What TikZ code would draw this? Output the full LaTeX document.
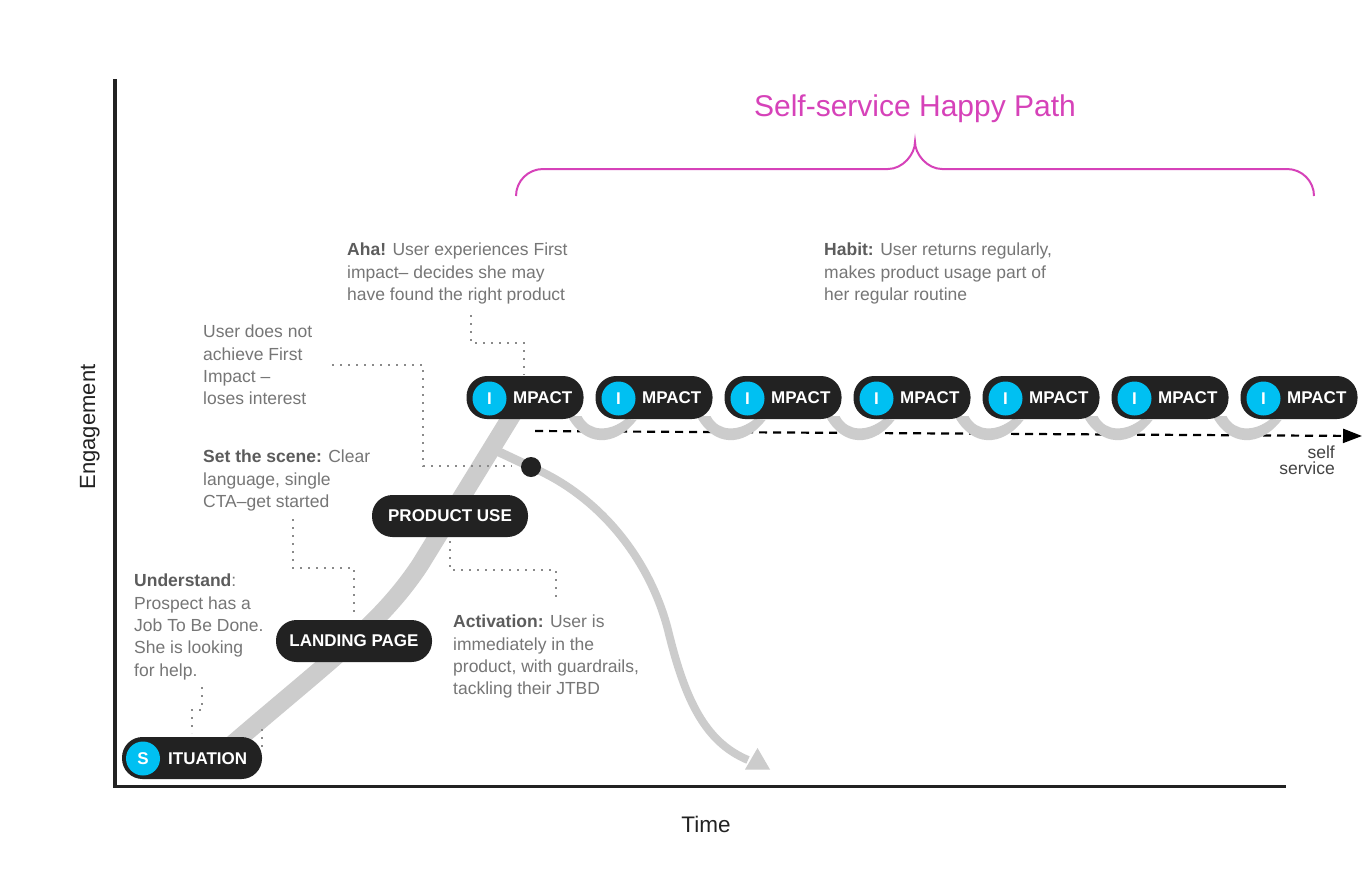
\documentclass[tikz,border=0pt]{standalone}
\usepackage{fontspec}
\setmainfont{Liberation Sans}
\usetikzlibrary{arrows.meta}
\definecolor{pill}{HTML}{222222}
\definecolor{cyanc}{HTML}{00C0F2}
\definecolor{bandc}{HTML}{CCCCCC}
\definecolor{note}{HTML}{767676}
\definecolor{notebold}{HTML}{5C5C5C}
\definecolor{mag}{HTML}{D642B9}
\definecolor{dotc}{HTML}{8A8A8A}
\begin{document}
\begin{tikzpicture}[x=1pt,y=-1pt,
  pillbox/.style={fill=pill, rounded corners=20.5pt, minimum height=42pt, inner sep=0pt, text=white, font=\fontsize{17}{20}\selectfont\bfseries},
  impactpill/.style={pillbox, minimum width=117pt, minimum height=43pt},
  initc/.style={circle, fill=cyanc, minimum size=34pt, inner sep=0pt, text=white, font=\fontsize{17}{20}\selectfont\bfseries},
  pilltext/.style={anchor=west, inner sep=0pt, text=white, font=\fontsize{17}{20}\selectfont\bfseries},
  note/.style={anchor=north west, inner sep=0pt, align=left, text=note, font=\fontsize{17.5}{22.3}\selectfont},
  dots/.style={draw=dotc, line width=2.2pt, dash pattern=on 2.2pt off 5.8pt},
  bandline/.style={draw=bandc}
]
\fill[white] (0,0) rectangle (1370,884);

% axes
\draw[pill, line width=3.5pt] (115,79) -- (115,786.5) -- (1286,786.5);
\node[rotate=90, anchor=base, text=pill, font=\fontsize{22}{26}\selectfont] (ylab) at (95,427) {Engagement};
\node[anchor=base, text=pill, font=\fontsize{22.5}{26}\selectfont] (xlab) at (706,832) {Time};

% title and brace
\node[anchor=base, text=mag, font=\fontsize{30}{34}\selectfont] (title) at (915,116) {Self-service Happy Path};
\draw[mag, line width=2pt] (516,196) .. controls (516,181.1) and (528.1,169) .. (543,169)
  -- (888,169) .. controls (902.9,169) and (915,154.1) .. (915,142)
  .. controls (915,154.1) and (927.1,169) .. (942,169)
  -- (1287,169) .. controls (1301.9,169) and (1314,181.1) .. (1314,196);

% main grey band
\coordinate (bandstart) at (228,748);
\coordinate (bandend) at (514,412);
\draw[bandline, line width=18pt] (bandstart) .. controls (330,660) and (380,625) .. (420,565) -- (bandend);
% branch to the dot and drop-off curve
\coordinate (dotpos) at (531,467);
\coordinate (dropend) at (748,760);
\draw[bandline, line width=9pt] (497,451) -- (dotpos);
\draw[bandline, line width=8pt] (dotpos) .. controls (600,496) and (650,560) .. (668,630)
  .. controls (685,700) and (705,742) .. (dropend);
\fill[bandc] (745,769.5) -- (757.5,748) -- (770,769.5) -- cycle;

% self service dashed arrow
\coordinate (ssstart) at (535,431);
\coordinate (ssend) at (1362,436);
\draw[black, line width=2.2pt, dash pattern=on 8pt off 6pt, -{Triangle[length=19pt,width=14pt]}] (ssstart) -- (ssend);
\node[anchor=north east, inner sep=0pt, align=right, text=pill!85, font=\fontsize{17.5}{16}\selectfont] (ss) at (1335,446) {self\\service};

% swooshes between impact pills
\foreach \i in {1,...,6}{
  \pgfmathsetmacro\c{489.5+129*(\i-1)}
  \fill[bandc] (\c+78,416) .. controls (\c+95,447) and (\c+125,448) .. (\c+147,420)
    -- (\c+136,419) .. controls (\c+120,432) and (\c+100,432) .. (\c+92,416) -- cycle;
}

% impact pills
\foreach \i in {1,...,7}{
  \pgfmathsetmacro\c{489.5+129*(\i-1)}
  \node[impactpill] (imp\i) at (\c+35.5,397.5) {};
  \node[initc] (impc\i) at (\c,398.5) {I};
  \node[pilltext] (impt\i) at (\c+23.5,398) {MPACT};
}

% situation, landing page, product use
\node[pillbox, minimum width=140pt] (sit) at (192,758) {};
\node[initc] (sitc) at (143,758.5) {S};
\node[pilltext] (sitt) at (168,758.5) {ITUATION};
\node[pillbox, minimum width=156pt] (land) at (354,641) {LANDING PAGE};
\node[pillbox, minimum width=156pt] (prod) at (450,516) {PRODUCT USE};

% dot
\fill[pill] (dotpos) circle[radius=10pt];

% notes
\node[note] (understand) at (134,574) {{\color{notebold}\bfseries Understand}:\\Prospect has a\\Job To Be Done.\\She is looking\\for help.};
\node[note] (losenote) at (203,325) {User does not\\achieve First\\Impact –\\loses interest};
\node[note] (scene) at (203,450) {{\color{notebold}\bfseries Set the scene:} Clear\\language, single\\CTA–get started};
\node[note] (aha) at (347,243) {{\color{notebold}\bfseries Aha!} User experiences First\\impact– decides she may\\have found the right product};
\node[note] (habit) at (824,243) {{\color{notebold}\bfseries Habit:} User returns regularly,\\makes product usage part of\\her regular routine};
\node[note] (activation) at (453,615) {{\color{notebold}\bfseries Activation:} User is\\immediately in the\\product, with guardrails,\\tackling their JTBD};

% dotted leaders
\coordinate (u1) at (202,687);
\coordinate (u2) at (192,733);
\draw[dots] (u1) -- (202,710) -- (192,710) -- (u2);
\coordinate (s1) at (262,729);
\coordinate (s2) at (262,747);
\draw[dots] (s1) -- (s2);
\coordinate (sc1) at (293,519);
\coordinate (sc2) at (354,613);
\draw[dots] (sc1) -- (293,568) -- (354,568) -- (sc2);
\coordinate (p1) at (450,541);
\coordinate (p2) at (556,597);
\draw[dots] (p1) -- (450,570) -- (556,570) -- (p2);
\coordinate (l1) at (332,365);
\coordinate (l2) at (512,466);
\draw[dots] (l1) -- (423,365) -- (423,466) -- (l2);
\coordinate (a1) at (471,315);
\coordinate (a2) at (524,375);
\draw[dots] (a1) -- (471,343) -- (524,343) -- (a2);
\end{tikzpicture}
\end{document}
